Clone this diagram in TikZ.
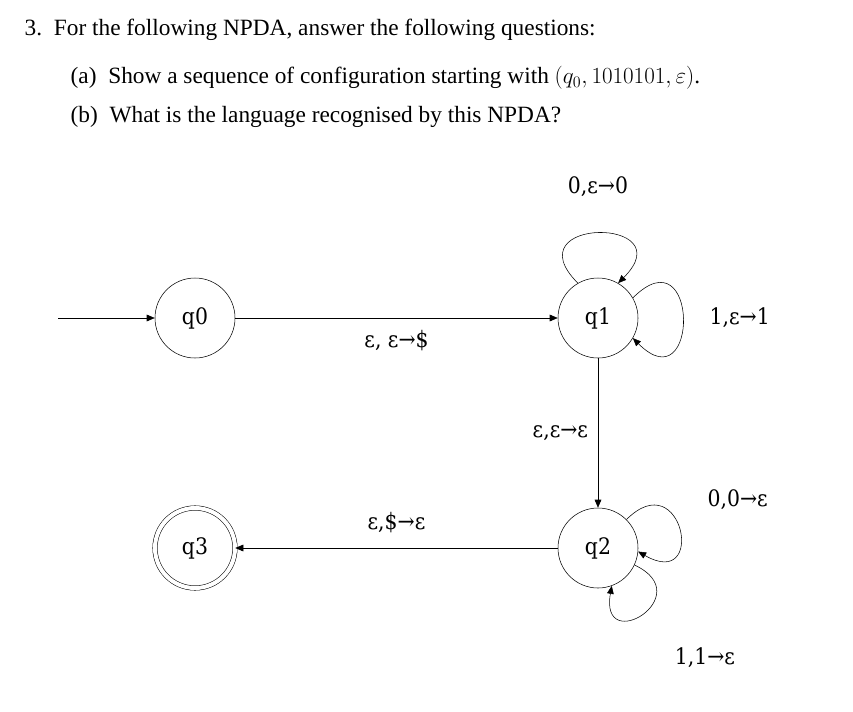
\documentclass[tikz,border=0pt]{standalone}
\usepackage{fontspec}
\setmainfont{Liberation Serif}
\newfontfamily\lbl{DejaVu Serif Condensed}
\usetikzlibrary{arrows.meta}
\begin{document}
\begin{tikzpicture}[x=0.75pt,y=-0.75pt,
  st/.style={draw,circle,minimum size=60pt,inner sep=0pt,font=\lbl\fontsize{17}{19}\selectfont},
  lab/.style={font=\lbl\fontsize{17}{19}\selectfont},
  txt/.style={anchor=west,font=\fontsize{17.5}{20}\selectfont},
  ar/.style={-{Triangle[length=6pt,width=5pt]}}]
\useasboundingbox (0,0) rectangle (853,711);
\node[txt] (t1) at (20,30) {3.\ \ For the following NPDA, answer the following questions:};
\node[txt] (t2) at (66,78) {(a)\ \ Show a sequence of configuration starting with $(q_0,1010101,\varepsilon)$.};
\node[txt] (t3) at (66,117) {(b)\ \ What is the language recognised by this NPDA?};
\node[st] (q0) at (195,318) {q0};
\node[st] (q1) at (598,318) {q1};
\node[st] (q2) at (598,548) {q2};
\node[st,double,double distance=3pt] (q3) at (195,548) {q3};
\coordinate (s) at (58,318);
\draw[ar] (s) -- (q0);
\draw[ar] (q0) -- node[lab,below=6pt] {ε, ε→\$} (q1);
\draw[ar] (q1) -- node[lab,left=4pt] {ε,ε→ε} (q2);
\draw[ar] (q2) -- node[lab,above=8pt] {ε,\$→ε} (q3);
\draw[ar] (q1.120) to[out=135,in=45,looseness=6] (q1.60);
\node[lab] (l1) at (598,187) {0,ε→0};
\draw[ar] (q1.30) to[out=45,in=-45,looseness=6] (q1.-30);
\node[lab,anchor=west] (l2) at (705,318) {1,ε→1};
\draw[ar] (q2.45) to[out=45,in=-30,looseness=6] (q2.-5);
\node[lab,anchor=west] (l3) at (703,500) {0,0→ε};
\draw[ar] (q2.-25) to[out=-25,in=-100,looseness=6] (q2.-70);
\node[lab] (l4) at (705,658) {1,1→ε};
\end{tikzpicture}
\end{document}
